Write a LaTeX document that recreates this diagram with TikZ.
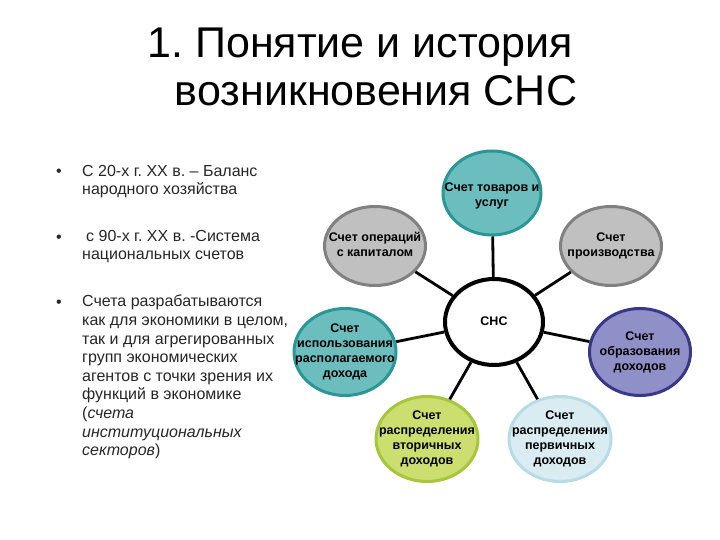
\documentclass[tikz,border=0pt]{standalone}
\usepackage{fontspec}
\setmainfont{Liberation Sans}
\usetikzlibrary{positioning,shapes.geometric}
\frenchspacing

\definecolor{tealf}{HTML}{6CBEBE}
\definecolor{teald}{HTML}{2A9696}
\definecolor{grayf}{HTML}{C0C0C0}
\definecolor{grayd}{HTML}{808080}
\definecolor{lilf}{HTML}{9090C8}
\definecolor{lild}{HTML}{383888}
\definecolor{limef}{HTML}{CCDE70}
\definecolor{limed}{HTML}{A6C63C}
\definecolor{skyf}{HTML}{D8ECF2}
\definecolor{skyd}{HTML}{B8DCE6}

\newcommand{\lbl}[1]{\makebox[0pt]{\begin{tabular}{@{}c@{}}#1\end{tabular}}}

\tikzset{
  acc/.style={ellipse, draw, line width=3pt, inner sep=0pt,
    minimum width=101pt, minimum height=85pt,
    font=\bfseries\fontsize{12.5}{15}\selectfont},
  spoke/.style={line width=2.8pt},
  txt/.style={anchor=north west, inner sep=0pt, align=left,
    font=\fontsize{16}{18.6}\selectfont, text=black!85},
  dot/.style={anchor=base, inner sep=0pt, font=\fontsize{16}{18}\selectfont, text=black!85},
  ttl/.style={anchor=base, inner sep=0pt, font=\fontsize{43}{47}\selectfont}
}

\begin{document}
\begin{tikzpicture}[x=1pt,y=-1pt]
	\useasboundingbox (0,0) rectangle (720,540);
	
	\node[ttl] (t1) at (360,58) {1. Понятие и история};
	\node[ttl] (t2) at (376,106) {возникновения СНС};
	
	\node[txt] (p1) at (82,165) {С 20-х г. ХХ в. – Баланс\\народного хозяйства};
	\node[txt] (p2) at (82,230) {\hspace{4pt}с 90-х г. ХХ в. -Система\\национальных счетов};
	\node[txt] (p3) at (82,295) {Счета разрабатываются\\как для экономики в целом,\\так и для агрегированных\\групп экономических\\агентов с точки зрения их\\функций в экономике\\(\textit{счета}\\\textit{институциональных}\\\textit{секторов})};
	\node[dot] (d1) at (59,177) {\textbullet};
	\node[dot] (d2) at (59,242) {\textbullet};
	\node[dot] (d3) at (59,307) {\textbullet};
	
	\node[acc, fill=white, draw=black, line width=4pt, minimum width=98pt, minimum height=86pt] (snc) at (494,322) {\lbl{СНС}};
	\node[acc, fill=tealf, draw=teald, minimum width=98pt, minimum height=84pt] (tov) at (492,193) {\lbl{\\[-9pt]Счет товаров и\\услуг}};
	\node[acc, fill=grayf, draw=grayd, minimum height=79pt] (kap) at (375,246) {\lbl{Счет операций\\с капиталом}};
	\node[acc, fill=grayf, draw=grayd, minimum height=79pt] (proizv) at (611,246) {\lbl{Счет\\производства}};
	\node[acc, fill=tealf, draw=teald, minimum width=102pt, minimum height=87pt] (isp) at (345,352) {\lbl{Счет\\использования\\располагаемого\\дохода}};
	\node[acc, fill=lilf, draw=lild, minimum height=87pt] (obr) at (640,352) {\lbl{Счет\\образования\\доходов}};
	\node[acc, fill=limef, draw=limed, minimum width=102pt] (vtor) at (427,439) {\lbl{Счет\\распределения\\вторичных\\доходов}};
	\node[acc, fill=skyf, draw=skyd, minimum width=102pt] (perv) at (560,439) {\lbl{Счет\\распределения\\первичных\\доходов}};
	
	\draw[spoke] (snc)--(tov);
	\draw[spoke] (snc)--(kap);
	\draw[spoke] (snc)--(proizv);
	\draw[spoke] (snc)--(isp);
	\draw[spoke] (snc)--(obr);
	\draw[spoke] (snc)--(vtor);
	\draw[spoke] (snc)--(perv);
\end{tikzpicture}
\end{document}
